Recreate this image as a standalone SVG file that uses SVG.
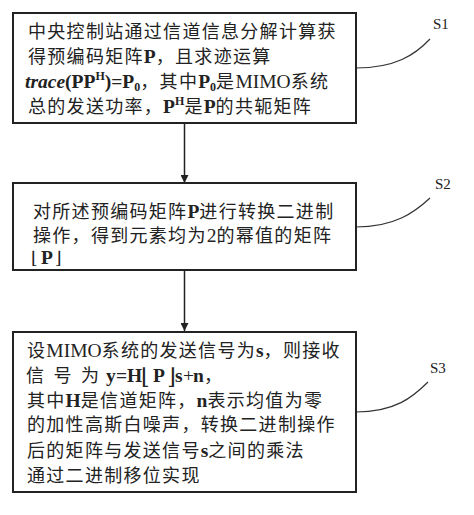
<svg xmlns="http://www.w3.org/2000/svg" width="474" height="515" viewBox="0 0 474 515">
<style>
.box{fill:#fff;stroke:#222;stroke-width:2}
.t{font-family:"Liberation Serif","Noto Sans CJK SC",serif;font-size:18px;letter-spacing:1.3px;fill:#222}
.b{font-weight:bold;font-size:19.5px;letter-spacing:0}
.r{font-size:19.5px;letter-spacing:0}
.s{font-size:12px;font-weight:bold;letter-spacing:0}
.fl{font-family:"DejaVu Serif",serif;letter-spacing:0;font-weight:normal}
.lbl{font-family:"Liberation Serif",serif;font-size:15px;fill:#222}
.con{stroke:#222;stroke-width:1.5;fill:none}
.lead{stroke:#333;stroke-width:1.2;fill:none}
</style>
<defs>
<marker id="ah" viewBox="0 0 10 10" refX="10" refY="5" markerWidth="8" markerHeight="8" markerUnits="userSpaceOnUse" orient="auto">
<path d="M0,0 L10,5 L0,10 Z" fill="#222"/>
</marker>
</defs>
<rect width="474" height="515" fill="#fff"/>
<g id="connectors">
<line class="con" x1="184.5" y1="123" x2="184.5" y2="183" marker-end="url(#ah)"/>
<line class="con" x1="184.5" y1="270" x2="184.5" y2="331" marker-end="url(#ah)"/>
<path class="lead" d="M356,68 C395,68 415,55 430,39"/>
<path class="lead" d="M356,227 C395,227 415,212 430,198"/>
<path class="lead" d="M356,412 C395,412 413,397 428,382"/>
</g>
<g id="S1">
<rect class="box" x="13" y="13" width="343" height="110"/>
<text class="t" x="28" y="38">中央控制站通过信道信息分解计算获</text>
<text class="t" x="28" y="63">得预编码矩阵<tspan class="b">P</tspan>，且求迹运算</text>
<text class="t" x="25" y="88"><tspan class="b" font-style="italic" font-size="18">trace</tspan><tspan class="b">(PP</tspan><tspan class="s" dy="-8">H</tspan><tspan class="b" dy="8">)=P</tspan><tspan class="s" dy="3">0</tspan><tspan dy="-3">，其中</tspan><tspan class="b">P</tspan><tspan class="s" dy="3">0</tspan><tspan dy="-3">是</tspan><tspan class="r">MIMO</tspan>系统</text>
<text class="t" x="28" y="113">总的发送功率，<tspan class="b">P</tspan><tspan class="s" dy="-8">H</tspan><tspan dy="8">是</tspan><tspan class="b">P</tspan>的共轭矩阵</text>
<text class="lbl" x="433" y="29">S1</text>
</g>
<g id="S2">
<rect class="box" x="13" y="183" width="343" height="87"/>
<text class="t" x="33" y="218">对所述预编码矩阵<tspan class="b">P</tspan>进行转换二进制</text>
<text class="t" x="33" y="242">操作，得到元素均为<tspan class="r">2</tspan>的幂值的矩阵</text>
<text class="t" y="264"><tspan class="fl" x="31" font-size="17">⌊</tspan><tspan class="b" x="41" font-size="15">P</tspan><tspan class="fl" x="55" font-size="17">⌋</tspan></text>
<text class="lbl" x="435" y="189">S2</text>
</g>
<g id="S3">
<rect class="box" x="13" y="332" width="343" height="160"/>
<text class="t" x="27" y="357">设<tspan class="r">MIMO</tspan>系统的发送信号为<tspan class="b">s</tspan>，则接收</text>
<text class="t" y="382"><tspan x="26" letter-spacing="9.5">信号</tspan><tspan x="81" letter-spacing="0">为</tspan><tspan class="b" x="106">y</tspan><tspan class="b" x="116" font-size="17">=</tspan><tspan class="b" x="127">H</tspan><tspan class="fl" x="141" y="384" font-size="22">⌊</tspan><tspan class="b" x="153" y="382">P</tspan><tspan class="fl" x="167" y="384" font-size="22">⌋</tspan><tspan class="b" x="175" y="382">s</tspan><tspan class="r" x="183" font-size="16">+</tspan><tspan class="b" x="193">n</tspan><tspan x="204">，</tspan></text>
<text class="t" x="27" y="407">其中<tspan class="b">H</tspan>是信道矩阵，<tspan class="b">n</tspan>表示均值为零</text>
<text class="t" x="27" y="431">的加性高斯白噪声，转换二进制操作</text>
<text class="t" x="27" y="457">后的矩阵与发送信号<tspan class="b">s</tspan>之间的乘法</text>
<text class="t" x="27" y="482">通过二进制移位实现</text>
<text class="lbl" x="430" y="373">S3</text>
</g>
</svg>
